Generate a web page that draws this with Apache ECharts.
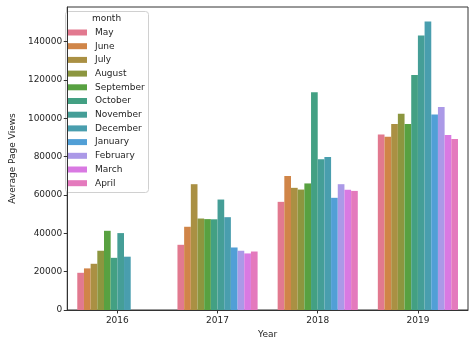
<!DOCTYPE html>
<html>
<head>
<meta charset="utf-8">
<script src="https://cdn.jsdelivr.net/npm/echarts@6/dist/echarts.min.js"></script>
<style>
  html, body { margin: 0; padding: 0; background: #fff; }
  #chart { width: 474px; height: 345px; }
</style>
</head>
<body>
<div id="chart"></div>
<script>
// Average page views per year, split by month (fiscal order May..April)
const years = ['2016', '2017', '2018', '2019'];
const months = ['May', 'June', 'July', 'August', 'September', 'October',
                'November', 'December', 'January', 'February', 'March', 'April'];
const monthColors = ['#e2798f', '#d08548', '#aa9043', '#8c963f', '#58a141', '#43a083',
                     '#459e97', '#499eae', '#519fd6', '#ab99e7', '#d979e2', '#e47abd'];

// One array per month, values for 2016..2019 (null = no data)
const may       = [19400, 34000, 56400, 91500];
const june      = [21700, 43400, 69900, 90300];
const july      = [24100, 65600, 63700, 97000];
const august    = [30900, 47700, 62800, 102400];
const september = [41300, 47400, 66000, 97000];
const october   = [27200, 47300, 113500, 122500];
const november  = [40100, 57600, 78600, 143100];
const december  = [27800, 48400, 79800, 150400];
const january   = [null, 32600, 58500, 101900];
const february  = [null, 30900, 65600, 105900];
const march     = [null, 29500, 62700, 91300];
const april     = [null, 30500, 62100, 89200];

const monthValues = [may, june, july, august, september, october,
                     november, december, january, february, march, april];

const yTicks = [0, 20000, 40000, 60000, 80000, 100000, 120000, 140000];

const font = 'DejaVu Sans';
const ink = '#1f1f1f';

const chart = echarts.init(document.getElementById('chart'), null, { renderer: 'canvas' });

const series = months.map((m, i) => ({
  name: m,
  type: 'bar',
  data: monthValues[i],
  barGap: '0%',
  barCategoryGap: '20%',
  itemStyle: { color: monthColors[i] },
  emphasis: { disabled: true }
}));

chart.setOption({
  animation: false,
  backgroundColor: '#ffffff',
  grid: {
    left: 60, right: 6, top: 7, bottom: 35,
    show: true, borderColor: '#333', borderWidth: 1, backgroundColor: 'transparent'
  },
  xAxis: {
    type: 'category',
    data: years,
    name: 'Year',
    nameLocation: 'middle',
    nameGap: 18,
    nameTextStyle: { fontFamily: font, fontSize: 9, color: ink },
    axisLine: { show: true, lineStyle: { color: '#333', width: 1 } },
    axisTick: { show: true, alignWithLabel: true, length: 3.5, lineStyle: { color: '#333' } },
    axisLabel: { fontFamily: font, fontSize: 9, color: ink, margin: 6 },
    splitLine: { show: false }
  },
  yAxis: {
    type: 'value',
    min: 0,
    max: 158000,
    interval: 20000,
    name: 'Average Page Views',
    nameLocation: 'middle',
    nameGap: 45,
    nameTextStyle: { fontFamily: font, fontSize: 9, color: ink },
    axisLine: { show: true, lineStyle: { color: '#333', width: 1 } },
    axisTick: { show: true, length: 3.5, lineStyle: { color: '#333' } },
    axisLabel: {
      fontFamily: font, fontSize: 9, color: ink, margin: 5,
      showMaxLabel: false,
      formatter: v => (yTicks.indexOf(v) >= 0 ? String(v) : '')
    },
    splitLine: { show: false }
  },
  legend: {
    orient: 'vertical',
    left: 68,
    top: 27,
    padding: 0,
    data: months,
    itemWidth: 19,
    itemHeight: 6,
    itemGap: 2.7,
    icon: 'rect',
    selectedMode: false,
    textStyle: { fontFamily: font, fontSize: 9, color: ink, lineHeight: 11, padding: [0, 0, 0, 3] }
  },
  graphic: [
    {
      type: 'rect',
      z: 0, zlevel: 0,
      shape: { x: 65.5, y: 11.5, width: 83, height: 181, r: 3 },
      style: { fill: 'rgba(255,255,255,0.8)', stroke: '#d0d0d0', lineWidth: 1 }
    },
    {
      type: 'text',
      z: 10,
      style: {
        x: 106.5, y: 19, text: 'month', align: 'center', verticalAlign: 'middle',
        font: '9px "DejaVu Sans"', fill: ink
      }
    }
  ],
  series: series
});
</script>
</body>
</html>
